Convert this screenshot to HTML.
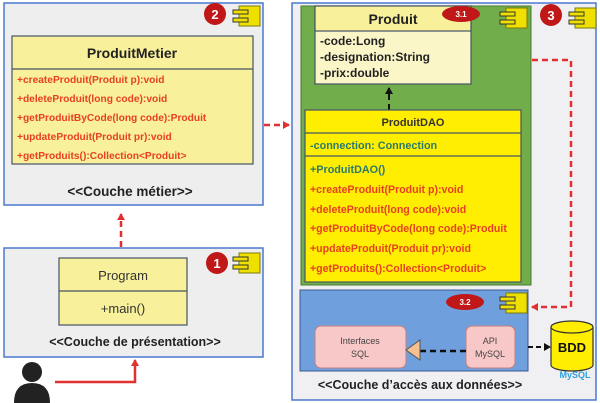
<!DOCTYPE html>
<html><head><meta charset="utf-8"><style>
html,body{margin:0;padding:0;background:#fff}
svg{display:block}
text{font-family:"Liberation Sans",sans-serif;font-weight:bold}
</style></head><body>
<svg width="600" height="403" viewBox="0 0 600 403" xmlns="http://www.w3.org/2000/svg">
<defs>
<g id="ic">
<rect x="6" y="0" width="21" height="20" fill="#f0e000" stroke="#7a7a10" stroke-width="1"/>
<rect x="0" y="4" width="15" height="4" fill="#f0e000" stroke="#333" stroke-width="1"/>
<rect x="0" y="12" width="15" height="4" fill="#f0e000" stroke="#333" stroke-width="1"/>
</g>
<marker id="ar" markerWidth="8" markerHeight="8" refX="6" refY="4" orient="auto" markerUnits="userSpaceOnUse"><path d="M0,0 L7,4 L0,8 z" fill="#e03030"/></marker>
<marker id="ak" markerWidth="8" markerHeight="8" refX="6" refY="4" orient="auto" markerUnits="userSpaceOnUse"><path d="M0,0 L7,4 L0,8 z" fill="#111"/></marker>
</defs>

<rect x="4" y="3" width="259" height="202" fill="#eeeeee" stroke="#4a78d0" stroke-width="1.5"/>
<circle cx="215" cy="14" r="11" fill="#c01818"/>
<text x="215" y="19" fill="#fff" font-size="13" text-anchor="middle">2</text>
<use href="#ic" x="233" y="6"/>
<rect x="12" y="36" width="241" height="128" fill="#f8f09a" stroke="#445566" stroke-width="1.2"/>
<line x1="12" y1="69" x2="253" y2="69" stroke="#445566" stroke-width="1.2"/>
<text x="132" y="58" font-size="14" text-anchor="middle" fill="#222">ProduitMetier</text>
<g font-size="10.2" fill="#e84020">
<text x="17" y="83">+createProduit(Produit p):void</text>
<text x="17" y="102">+deleteProduit(long code):void</text>
<text x="17" y="121">+getProduitByCode(long code):Produit</text>
<text x="17" y="140">+updateProduit(Produit pr):void</text>
<text x="17" y="159">+getProduits():Collection&lt;Produit&gt;</text>
</g>
<text x="130" y="196" font-size="13.5" text-anchor="middle" fill="#222">&lt;&lt;Couche métier&gt;&gt;</text>

<line x1="264" y1="125" x2="289" y2="125" stroke="#e03030" stroke-width="2.5" stroke-dasharray="6,4" marker-end="url(#ar)"/>

<rect x="4" y="248" width="259" height="109" fill="#eeeeee" stroke="#4a78d0" stroke-width="1.5"/>
<line x1="121" y1="247" x2="121" y2="214" stroke="#e03030" stroke-width="2.5" stroke-dasharray="6,4" marker-end="url(#ar)"/>
<circle cx="217" cy="263" r="11" fill="#c01818"/>
<text x="217" y="268" fill="#fff" font-size="13" text-anchor="middle">1</text>
<use href="#ic" x="233" y="253"/>
<rect x="59" y="258" width="128" height="67" fill="#f8f09a" stroke="#445566" stroke-width="1.2"/>
<line x1="59" y1="291" x2="187" y2="291" stroke="#445566" stroke-width="1.2"/>
<text x="123" y="280" font-size="13" style="font-weight:normal" text-anchor="middle" fill="#333">Program</text>
<text x="123" y="313" font-size="13" style="font-weight:normal" text-anchor="middle" fill="#333">+main()</text>
<text x="135" y="346" font-size="12.5" text-anchor="middle" fill="#222">&lt;&lt;Couche de présentation&gt;&gt;</text>
<circle cx="32" cy="372" r="10" fill="#222"/>
<path d="M14,403 Q14,383 32,383 Q50,383 50,403 z" fill="#222"/>
<polyline points="55,382 135,382 135,360" fill="none" stroke="#e03030" stroke-width="2.5" marker-end="url(#ar)"/>

<rect x="292" y="3" width="304" height="397" fill="#f0f0f2" stroke="#4a78d0" stroke-width="1.5"/>
<rect x="301" y="6" width="230" height="279" fill="#72ad4c" stroke="#4a7a30" stroke-width="1"/>
<circle cx="551" cy="15" r="11" fill="#c01818"/>
<text x="551" y="20" fill="#fff" font-size="13" text-anchor="middle">3</text>
<use href="#ic" x="569" y="8"/>
<use href="#ic" x="500" y="8"/>
<rect x="315" y="6" width="156" height="78" fill="#fbf6c8" stroke="#445566" stroke-width="1.2"/>
<rect x="315" y="6" width="156" height="25" fill="#f8f09a" stroke="#445566" stroke-width="1.2"/>
<text x="393" y="24" font-size="14" text-anchor="middle" fill="#222">Produit</text>
<ellipse cx="461" cy="14" rx="19" ry="8" fill="#c01818"/>
<text x="461" y="17" font-size="8" fill="#fff" text-anchor="middle">3.1</text>
<g font-size="12" style="font-weight:normal" fill="#222">
<text x="320" y="45">-code:Long</text>
<text x="320" y="61">-designation:String</text>
<text x="320" y="77">-prix:double</text>
</g>
<line x1="389" y1="110" x2="389" y2="88" stroke="#111" stroke-width="2" stroke-dasharray="6,4" marker-end="url(#ak)"/>
<rect x="305" y="110" width="216" height="172" fill="#ffee00" stroke="#445566" stroke-width="1.2"/>
<line x1="305" y1="133" x2="521" y2="133" stroke="#445566" stroke-width="1.2"/>
<line x1="305" y1="156" x2="521" y2="156" stroke="#445566" stroke-width="1.2"/>
<text x="413" y="126" font-size="11" text-anchor="middle" fill="#333">ProduitDAO</text>
<text x="310" y="149" font-size="10.8" fill="#2a7a6a">-connection: Connection</text>
<text x="310" y="173" font-size="10.8" fill="#2a7a6a">+ProduitDAO()</text>
<g font-size="10.6" fill="#e84020">
<text x="310" y="193">+createProduit(Produit p):void</text>
<text x="310" y="213">+deleteProduit(long code):void</text>
<text x="310" y="232">+getProduitByCode(long code):Produit</text>
<text x="310" y="252">+updateProduit(Produit pr):void</text>
<text x="310" y="272">+getProduits():Collection&lt;Produit&gt;</text>
</g>
<polyline points="532,60 571,60 571,307 532,307" fill="none" stroke="#e03030" stroke-width="2.5" stroke-dasharray="6,4" marker-end="url(#ar)"/>
<rect x="300" y="290" width="228" height="81" fill="#6f9fdc" stroke="#3a5a90" stroke-width="1"/>
<ellipse cx="465" cy="302" rx="19" ry="8" fill="#c01818"/>
<text x="465" y="305" font-size="8" fill="#fff" text-anchor="middle">3.2</text>
<use href="#ic" x="500" y="293"/>
<rect x="315" y="326" width="91" height="42" rx="6" fill="#f8c8c8" stroke="#c08080" stroke-width="1"/>
<text x="360" y="344" font-size="9" style="font-weight:normal" text-anchor="middle" fill="#444">Interfaces</text>
<text x="360" y="357" font-size="9" style="font-weight:normal" text-anchor="middle" fill="#444">SQL</text>
<rect x="466" y="326" width="49" height="42" rx="6" fill="#f8c8c8" stroke="#c08080" stroke-width="1"/>
<text x="490" y="344" font-size="9" style="font-weight:normal" text-anchor="middle" fill="#444">API</text>
<text x="490" y="357" font-size="9" style="font-weight:normal" text-anchor="middle" fill="#444">MySQL</text>
<line x1="420" y1="351" x2="466" y2="351" stroke="#111" stroke-width="2.5" stroke-dasharray="6,4"/>
<path d="M406,350 L420,340 L420,360 z" fill="#f8c090" stroke="#555" stroke-width="1"/>
<line x1="528" y1="347" x2="550" y2="347" stroke="#111" stroke-width="2" stroke-dasharray="5,3" marker-end="url(#ak)"/>
<path d="M551,327 L551,365 A21,6 0 0 0 593,365 L593,327" fill="#ffee00" stroke="#333" stroke-width="1.2"/>
<ellipse cx="572" cy="327" rx="21" ry="6" fill="#ffee00" stroke="#333" stroke-width="1.2"/>
<text x="572" y="352" font-size="13" text-anchor="middle" fill="#111">BDD</text>
<text x="575" y="378" font-size="9" text-anchor="middle" fill="#30a0e0">MySQL</text>
<text x="420" y="389" font-size="12.5" text-anchor="middle" fill="#222">&lt;&lt;Couche d’accès aux données&gt;&gt;</text>
</svg>
</body></html>
